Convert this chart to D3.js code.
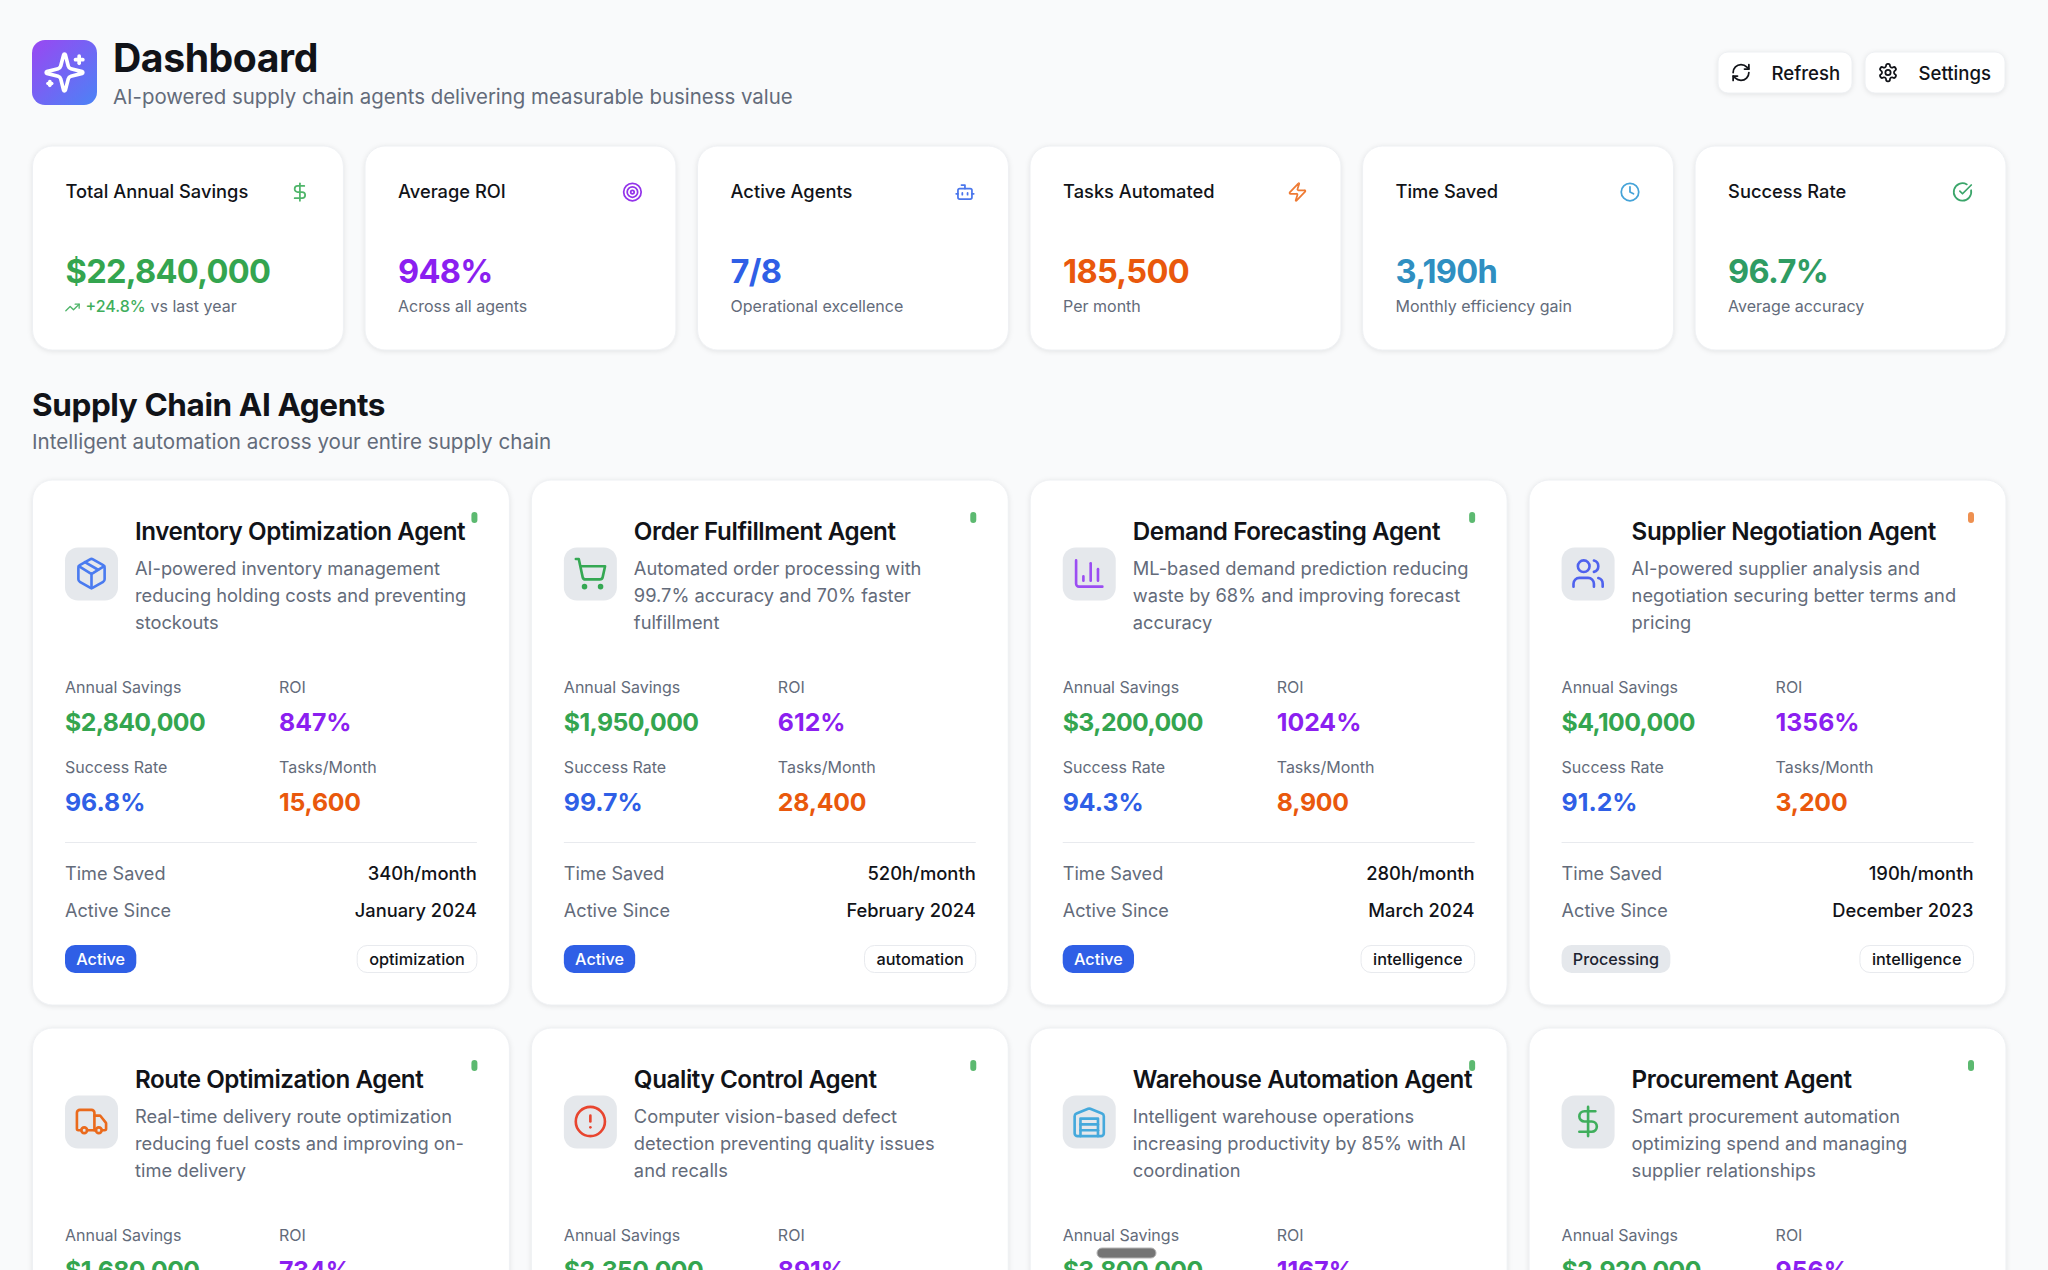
<!DOCTYPE html>
<html lang="en">
<head>
<meta charset="UTF-8">
<title>Dashboard</title>
<style>
    html, body { margin: 0; padding: 0; background: #f9fafb; overflow: hidden; }
    svg { display: block; font-family: Inter, "Noto Sans", sans-serif; }
    .card { fill: #fff; stroke: #eef0f3; stroke-width: 1; filter: drop-shadow(0 1.5px 2.5px rgba(0,0,0,.09)); }
    .ico { fill: none; stroke-linecap: round; stroke-linejoin: round; }
</style>
<script src="https://d3js.org/d3.v7.min.js"></script>
</head>
<body>
<svg width="2048" height="1270"></svg>
<script>
    const DARK = "#111318", GRAY = "#636b7a", GREEN = "#34a54f", PURPLE = "#8b1ff0",
          BLUE = "#2f5fe6", ORANGE = "#e9580c", TEAL = "#2f8fc1", SUCCESS = "#2f9c63";

    const circle = (cx, cy, r) => `M${cx - r} ${cy}a${r} ${r} 0 1 0 ${2 * r} 0a${r} ${r} 0 1 0 ${-2 * r} 0`;

    // lucide style icons, 24 box
    const icons = {
        sparkles: ["M9.937 15.5A2 2 0 0 0 8.5 14.063l-6.135-1.582a.5.5 0 0 1 0-.962L8.5 9.936A2 2 0 0 0 9.937 8.5l1.582-6.135a.5.5 0 0 1 .963 0L14.063 8.5A2 2 0 0 0 15.5 9.937l6.135 1.581a.5.5 0 0 1 0 .964L15.5 14.063a2 2 0 0 0-1.437 1.437l-1.582 6.135a.5.5 0 0 1-.963 0z", "M20 3v4", "M22 5h-4", "M4 17v2", "M5 18H3"],
        refresh: ["M3 12a9 9 0 0 1 9-9 9.75 9.75 0 0 1 6.74 2.74L21 8", "M21 3v5h-5", "M21 12a9 9 0 0 1-9 9 9.75 9.75 0 0 1-6.74-2.74L3 16", "M8 16H3v5"],
        settings: ["M12.22 2h-.44a2 2 0 0 0-2 2v.18a2 2 0 0 1-1 1.73l-.43.25a2 2 0 0 1-2 0l-.15-.08a2 2 0 0 0-2.73.73l-.22.38a2 2 0 0 0 .73 2.73l.15.1a2 2 0 0 1 1 1.72v.51a2 2 0 0 1-1 1.74l-.15.09a2 2 0 0 0-.73 2.73l.22.38a2 2 0 0 0 2.73.73l.15-.08a2 2 0 0 1 2 0l.43.25a2 2 0 0 1 1 1.73V20a2 2 0 0 0 2 2h.44a2 2 0 0 0 2-2v-.18a2 2 0 0 1 1-1.73l.43-.25a2 2 0 0 1 2 0l.15.08a2 2 0 0 0 2.73-.73l.22-.39a2 2 0 0 0-.73-2.73l-.15-.08a2 2 0 0 1-1-1.74v-.5a2 2 0 0 1 1-1.74l.15-.09a2 2 0 0 0 .73-2.73l-.22-.38a2 2 0 0 0-2.73-.73l-.15.08a2 2 0 0 1-2 0l-.43-.25a2 2 0 0 1-1-1.73V4a2 2 0 0 0-2-2z", circle(12, 12, 3)],
        dollar: ["M12 2v20", "M17 5H9.5a3.5 3.5 0 0 0 0 7h5a3.5 3.5 0 0 1 0 7H6"],
        target: [circle(12, 12, 10), circle(12, 12, 6), circle(12, 12, 2)],
        bot: ["M12 8V4H8", "M6 8h12a2 2 0 0 1 2 2v8a2 2 0 0 1-2 2H6a2 2 0 0 1-2-2v-8a2 2 0 0 1 2-2z", "M2 14h2", "M20 14h2", "M15 13v2", "M9 13v2"],
        zap: ["M4 14a1 1 0 0 1-.78-1.63l9.9-10.2a.5.5 0 0 1 .86.46l-1.92 6.02A1 1 0 0 0 13 10h7a1 1 0 0 1 .78 1.63l-9.9 10.2a.5.5 0 0 1-.86-.46l1.92-6.02A1 1 0 0 0 11 14z"],
        clock: [circle(12, 12, 10), "M12 6v6l4 2"],
        check: ["M21.801 10A10 10 0 1 1 17 3.335", "m9 11 3 3L22 4"],
        trend: ["M16 7h6v6", "m22 7-8.5 8.5-5-5L2 17"],
        package: ["M11 21.73a2 2 0 0 0 2 0l7-4A2 2 0 0 0 21 16V8a2 2 0 0 0-1-1.73l-7-4a2 2 0 0 0-2 0l-7 4A2 2 0 0 0 3 8v8a2 2 0 0 0 1 1.73z", "M12 22V12", "m3.3 7 7.703 4.734a2 2 0 0 0 1.994 0L20.7 7", "m7.5 4.27 9 5.15"],
        cart: [circle(8, 21, 1), circle(19, 21, 1), "M2.05 2.05h2l2.66 12.42a2 2 0 0 0 2 1.58h9.78a2 2 0 0 0 1.95-1.57l1.65-7.43H5.12"],
        chart: ["M3 3v16a2 2 0 0 0 2 2h16", "M18 17V9", "M13 17V5", "M8 17v-3"],
        users: ["M16 21v-2a4 4 0 0 0-4-4H6a4 4 0 0 0-4 4v2", circle(9, 7, 4), "M22 21v-2a4 4 0 0 0-3-3.87", "M16 3.13a4 4 0 0 1 0 7.75"],
        truck: ["M14 18V6a2 2 0 0 0-2-2H4a2 2 0 0 0-2 2v11a1 1 0 0 0 1 1h2", "M15 18H9", "M19 18h2a1 1 0 0 0 1-1v-3.65a1 1 0 0 0-.22-.624l-3.48-4.35A1 1 0 0 0 17.52 8H14", circle(17, 18, 2), circle(7, 18, 2)],
        alert: [circle(12, 12, 10), "M12 8v4", "M12 16h.01"],
        warehouse: ["M22 8.35V20a2 2 0 0 1-2 2H4a2 2 0 0 1-2-2V8.35A2 2 0 0 1 3.26 6.5l8-3.2a2 2 0 0 1 1.48 0l8 3.2A2 2 0 0 1 22 8.35Z", "M6 18h12", "M6 14h12", "M6 22V10h12v12"]
    };

    // top stat cards
    const statLabels = ["Total Annual Savings", "Average ROI", "Active Agents", "Tasks Automated", "Time Saved", "Success Rate"];
    const statValues = ["$22,840,000", "948%", "7/8", "185,500", "3,190h", "96.7%"];
    const statNotes = ["vs last year", "Across all agents", "Operational excellence", "Per month", "Monthly efficiency gain", "Average accuracy"];
    const statColors = [GREEN, PURPLE, BLUE, ORANGE, TEAL, SUCCESS];
    const statIcons = ["dollar", "target", "bot", "zap", "clock", "check"];
    const statIconColors = ["#4fb56a", "#9333ea", "#4a76ec", "#ee7a33", "#45a3d8", "#3aa56a"];

    // agent cards
    const agentNames = ["Inventory Optimization Agent", "Order Fulfillment Agent", "Demand Forecasting Agent", "Supplier Negotiation Agent", "Route Optimization Agent", "Quality Control Agent", "Warehouse Automation Agent", "Procurement Agent"];
    const agentDescriptions = [
        ["AI-powered inventory management", "reducing holding costs and preventing", "stockouts"],
        ["Automated order processing with", "99.7% accuracy and 70% faster", "fulfillment"],
        ["ML-based demand prediction reducing", "waste by 68% and improving forecast", "accuracy"],
        ["AI-powered supplier analysis and", "negotiation securing better terms and", "pricing"],
        ["Real-time delivery route optimization", "reducing fuel costs and improving on-", "time delivery"],
        ["Computer vision-based defect", "detection preventing quality issues", "and recalls"],
        ["Intelligent warehouse operations", "increasing productivity by 85% with AI", "coordination"],
        ["Smart procurement automation", "optimizing spend and managing", "supplier relationships"]
    ];
    const agentIcons = ["package", "cart", "chart", "users", "truck", "alert", "warehouse", "dollar"];
    const agentIconColors = ["#4a7bf0", "#35a853", "#9b4df2", "#4f62ee", "#ea6a1c", "#e8452f", "#45a9dc", "#3fae5c"];
    const agentDotColors = ["#5cb970", "#5cb970", "#5cb970", "#ee9050", "#5cb970", "#5cb970", "#5cb970", "#5cb970"];
    const savings = ["$2,840,000", "$1,950,000", "$3,200,000", "$4,100,000", "$1,680,000", "$2,350,000", "$3,800,000", "$2,920,000"];
    const roi = ["847%", "612%", "1024%", "1356%", "734%", "891%", "1167%", "956%"];
    // the second row runs off the page below this point
    const successRates = ["96.8%", "99.7%", "94.3%", "91.2%"];
    const tasksPerMonth = ["15,600", "28,400", "8,900", "3,200"];
    const timeSaved = ["340h/month", "520h/month", "280h/month", "190h/month"];
    const activeSince = ["January 2024", "February 2024", "March 2024", "December 2023"];
    const statuses = ["Active", "Active", "Active", "Processing"];
    const tags = ["optimization", "automation", "intelligence", "intelligence"];

    const svg = d3.select("svg");

    const defs = svg.append("defs");
    const grad = defs.append("linearGradient").attr("id", "logo-grad")
        .attr("x1", 0).attr("y1", 0).attr("x2", 1).attr("y2", 1);
    grad.append("stop").attr("offset", 0).attr("stop-color", "#9a47f2");
    grad.append("stop").attr("offset", 1).attr("stop-color", "#4b83f6");

    function label(g, x, y, str, size, weight, color, anchor) {
        return g.append("text")
            .attr("x", x).attr("y", y)
            .attr("font-size", size)
            .attr("font-weight", weight)
            .attr("fill", color)
            .attr("text-anchor", anchor || "start")
            .text(str);
    }

    function icon(g, name, cx, cy, size, color, width) {
        const k = size / 24;
        const ig = g.append("g").attr("class", "ico")
            .attr("transform", `translate(${cx - size / 2},${cy - size / 2}) scale(${k})`)
            .attr("stroke", color)
            .attr("stroke-width", width);
        icons[name].forEach(d => ig.append("path").attr("d", d));
    }

    // header
    const header = svg.append("g");
    header.append("rect").attr("x", 32).attr("y", 40).attr("width", 65).attr("height", 65).attr("rx", 13)
        .attr("fill", "url(#logo-grad)");
    icon(header, "sparkles", 64.5, 72.5, 44, "#fff", 2);
    label(header, 113, 71.5, "Dashboard", 39.2, 700, DARK).attr("letter-spacing", -0.45);
    label(header, 113, 104, "AI-powered supply chain agents delivering measurable business value", 20.4, 400, GRAY);

    const buttons = header.selectAll("g.btn")
        .data([
            { text: "Refresh", icon: "refresh", x0: 1718, x1: 1852 },
            { text: "Settings", icon: "settings", x0: 1865, x1: 2005 }
        ])
        .join("g").attr("class", "btn");
    buttons.each(function(d) {
        const g = d3.select(this);
        g.append("rect").attr("class", "card").attr("x", d.x0).attr("y", 52)
            .attr("width", d.x1 - d.x0).attr("height", 41).attr("rx", 10);
        icon(g, d.icon, d.x0 + 23, 72.5, 21, DARK, 2);
        label(g, d.x0 + 53.5, 79.5, d.text, 18.6, 500, DARK);
    });

    // stat row
    const statX = d3.scaleBand().domain(statLabels).range([32.5, 2006]).paddingInner(0.065);

    const stats = svg.selectAll("g.stat")
        .data(statLabels)
        .join("g").attr("class", "stat")
        .attr("transform", d => `translate(${statX(d)},146)`);

    stats.each(function(d, i) {
        const g = d3.select(this);
        const w = statX.bandwidth();
        g.append("rect").attr("class", "card").attr("width", w).attr("height", 204).attr("rx", 20);
        label(g, 33, 52, d, 18.3, 500, DARK);
        icon(g, statIcons[i], w - 43.5, 46, 21, statIconColors[i], 2);
        label(g, 33, 136.5, statValues[i], 32.6, 700, statColors[i]).attr("letter-spacing", -0.7);
        if (i === 0) {
            icon(g, "trend", 40, 161.5, 16, "#4fb56a", 2);
            label(g, 53, 166, "+24.8%", 16, 500, "#3fae5c");
            label(g, 118, 166, statNotes[i], 16, 400, GRAY);
        } else {
            label(g, 33, 166, statNotes[i], 16, 400, GRAY);
        }
    });

    // section heading
    label(svg, 32, 415.5, "Supply Chain AI Agents", 31.5, 700, DARK).attr("letter-spacing", -0.4);
    label(svg, 32, 449, "Intelligent automation across your entire supply chain", 20.6, 400, GRAY);

    // agent grid
    const gridX = d3.scaleBand().domain(d3.range(4)).range([32.5, 2006]).paddingInner(0.044);
    const gridY = d3.scaleOrdinal().domain([0, 1]).range([480, 1028]);

    const agents = svg.selectAll("g.agent")
        .data(agentNames)
        .join("g").attr("class", "agent")
        .attr("transform", (d, i) => `translate(${gridX(i % 4)},${gridY(Math.floor(i / 4))})`);

    agents.each(function(d, i) {
        const g = d3.select(this);
        const w = gridX.bandwidth();
        g.append("rect").attr("class", "card").attr("width", w).attr("height", 525).attr("rx", 20);

        g.append("rect").attr("x", w - 38).attr("y", 32).attr("width", 6).attr("height", 11).attr("rx", 3)
            .attr("fill", agentDotColors[i]);
        g.append("rect").attr("x", 32.5).attr("y", 67.5).attr("width", 53).attr("height", 53).attr("rx", 13)
            .attr("fill", "#e5e8ec");
        icon(g, agentIcons[i], 59, 93.5, 35, agentIconColors[i], 1.8);

        label(g, 102.5, 60, d, 24.2, 600, DARK).attr("letter-spacing", -0.42);
        agentDescriptions[i].forEach((line, j) => {
            label(g, 102.5, 95 + j * 26.8, line, 18.3, 400, GRAY);
        });

        label(g, 32.5, 212.5, "Annual Savings", 16, 400, GRAY);
        label(g, 246.5, 212.5, "ROI", 16, 400, GRAY);
        label(g, 32.5, 250.5, savings[i], 24.8, 700, GREEN).attr("letter-spacing", -0.6);
        label(g, 246.5, 250.5, roi[i], 24.8, 700, PURPLE);

        if (i > 3) return;

        label(g, 32.5, 293, "Success Rate", 16, 400, GRAY);
        label(g, 246.5, 293, "Tasks/Month", 16, 400, GRAY);
        label(g, 32.5, 331, successRates[i], 24.8, 700, BLUE);
        label(g, 246.5, 331, tasksPerMonth[i], 24.8, 700, ORANGE).attr("letter-spacing", -0.2);

        g.append("line").attr("x1", 32.5).attr("x2", w - 32.5).attr("y1", 362.5).attr("y2", 362.5)
            .attr("stroke", "#e8eaee").attr("stroke-width", 1);

        label(g, 32.5, 400, "Time Saved", 18.1, 400, GRAY);
        label(g, w - 32.5, 400, timeSaved[i], 18.4, 500, DARK, "end");
        label(g, 32.5, 437, "Active Since", 18.1, 400, GRAY);
        label(g, w - 32.5, 437, activeSince[i], 18.3, 500, DARK, "end");

        // status + tag pills
        const active = statuses[i] === "Active";
        const statusText = label(g, 0, 484.5, statuses[i], 16.2, 500, active ? "#fff" : "#1d2330", "middle");
        const sw = statusText.node().getComputedTextLength() + 22.5;
        statusText.attr("x", 32.5 + sw / 2);
        g.insert("rect", "text:last-of-type").attr("x", 32.5).attr("y", 465).attr("width", sw).attr("height", 28).attr("rx", 10)
            .attr("fill", active ? BLUE : "#e5e8ec");

        const tagText = label(g, w - 32.5 - 12, 484.5, tags[i], 16.3, 500, DARK, "end");
        const tw = tagText.node().getComputedTextLength() + 24;
        g.insert("rect", "text:last-of-type").attr("x", w - 32.5 - tw).attr("y", 465.5).attr("width", tw).attr("height", 27).attr("rx", 10)
            .attr("fill", "#fff").attr("stroke", "#e8eaee");
    });

    // scroll handle at the bottom
    svg.append("rect").attr("x", 1097).attr("y", 1248).attr("width", 59).attr("height", 10).attr("rx", 5)
        .attr("fill", "#757575").attr("stroke", "#b4b4b4").attr("stroke-width", 1);
</script>
</body>
</html>
